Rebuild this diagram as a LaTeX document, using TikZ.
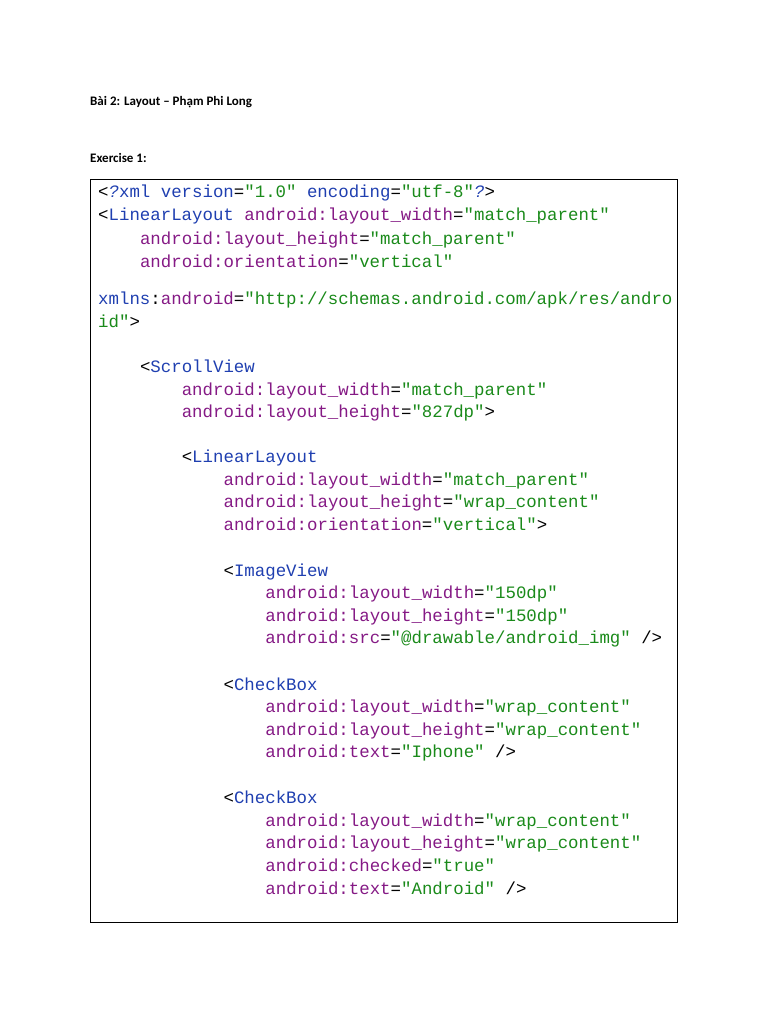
\documentclass[tikz,border=0pt]{standalone}
\usepackage{fontspec}
\setmainfont{Carlito}
\newfontfamily\codefont{Liberation Mono}[Ligatures=NoCommon]
\definecolor{tagc}{HTML}{1F3FB0}
\definecolor{attc}{HTML}{851A85}
\definecolor{valc}{HTML}{1A8A1A}
\newcommand{\Tg}[1]{\textcolor{tagc}{#1}}
\newcommand{\At}[1]{\textcolor{attc}{#1}}
\newcommand{\Vl}[1]{\textcolor{valc}{#1}}
\tikzset{code/.style={anchor=base west,inner sep=0pt,font=\codefont\fontsize{17.4}{20}\selectfont},
 title/.style={anchor=base west,inner sep=0pt,font=\bfseries\fontsize{13}{15}\selectfont}}
\begin{document}
\begin{tikzpicture}[x=1pt,y=-1pt]
\useasboundingbox (0,0) rectangle (768,1024);
\node[title] (t1) at (90,106) {Bài 2: Layout – Phạm Phi Long};
\node[title] (t2) at (90,163) {Exercise 1:};
\draw[line width=1pt] (90,180) rectangle (677,922);
\def\a{98}\def\b{139.8}\def\c{181.6}\def\d{223.4}\def\e{265.2}
\node[code] (l1) at (\a,198) {<\Tg{\textit{?}xml version}=\Vl{"1.0"} \Tg{encoding}=\Vl{"utf-8"}\Tg{\textit{?}}>};
\node[code] (l2) at (\a,221) {<\Tg{LinearLayout} \At{android:layout\_width}=\Vl{"match\_parent"}};
\node[code] (l3) at (\b,244) {\At{android:layout\_height}=\Vl{"match\_parent"}};
\node[code] (l4) at (\b,267) {\At{android:orientation}=\Vl{"vertical"}};
\node[code] (l5) at (\a,304) {\Tg{xmlns}:\At{android}=\Vl{"http://schemas.android.com/apk/res/andro}};
\node[code] (l6) at (\a,327) {\Vl{id"}>};
\node[code] (l7) at (\b,372) {<\Tg{ScrollView}};
\node[code] (l8) at (\c,395) {\At{android:layout\_width}=\Vl{"match\_parent"}};
\node[code] (l9) at (\c,417) {\At{android:layout\_height}=\Vl{"827dp"}>};
\node[code] (l10) at (\c,462) {<\Tg{LinearLayout}};
\node[code] (l11) at (\d,485) {\At{android:layout\_width}=\Vl{"match\_parent"}};
\node[code] (l12) at (\d,507) {\At{android:layout\_height}=\Vl{"wrap\_content"}};
\node[code] (l13) at (\d,530) {\At{android:orientation}=\Vl{"vertical"}>};
\node[code] (l14) at (\d,576) {<\Tg{ImageView}};
\node[code] (l15) at (\e,598) {\At{android:layout\_width}=\Vl{"150dp"}};
\node[code] (l16) at (\e,621) {\At{android:layout\_height}=\Vl{"150dp"}};
\node[code] (l17) at (\e,643) {\At{android:src}=\Vl{"@drawable/android\_img"} />};
\node[code] (l18) at (\d,690) {<\Tg{CheckBox}};
\node[code] (l19) at (\e,712) {\At{android:layout\_width}=\Vl{"wrap\_content"}};
\node[code] (l20) at (\e,735) {\At{android:layout\_height}=\Vl{"wrap\_content"}};
\node[code] (l21) at (\e,757) {\At{android:text}=\Vl{"Iphone"} />};
\node[code] (l22) at (\d,803) {<\Tg{CheckBox}};
\node[code] (l23) at (\e,826) {\At{android:layout\_width}=\Vl{"wrap\_content"}};
\node[code] (l24) at (\e,848) {\At{android:layout\_height}=\Vl{"wrap\_content"}};
\node[code] (l25) at (\e,871) {\At{android:checked}=\Vl{"true"}};
\node[code] (l26) at (\e,894) {\At{android:text}=\Vl{"Android"} />};
\end{tikzpicture}
\end{document}
